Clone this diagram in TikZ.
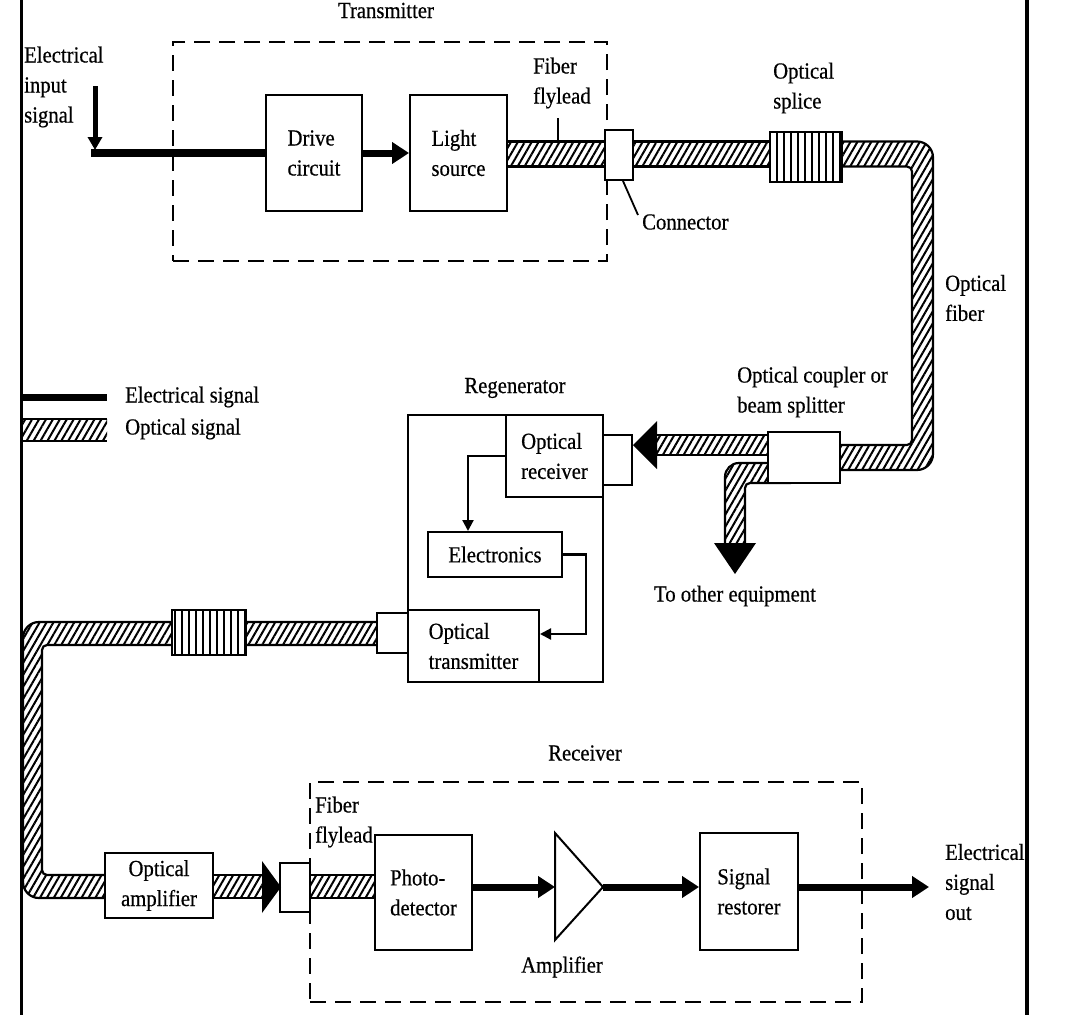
\documentclass[tikz,border=0pt]{standalone}
\usepackage{fontspec}
\setmainfont{Liberation Serif}[FakeStretch=0.9,FakeBold=0.5]
\usetikzlibrary{arrows.meta,patterns.meta,calc}
\begin{document}
\begin{tikzpicture}[x=1pt,y=-1pt,
  font=\fontsize{23}{30}\selectfont,
  blk/.style={draw, line width=2pt, fill=white, inner sep=0pt, align=left},
  lbl/.style={inner sep=0pt, align=left},
  fiberband/.style={draw, line width=2.2pt, pattern={Lines[angle=60,distance=6pt,line width=2pt]}},
  splicebox/.style={draw, line width=2.2pt, fill=white, inner sep=0pt, postaction={pattern={Lines[angle=90,distance=7pt,line width=2pt]}}},
  earrow/.style={line width=7pt, -{Triangle[length=17pt,width=21pt]}},
  tarrow/.style={line width=2.2pt, -{Triangle[length=11pt,width=11pt]}},
  dashbox/.style={draw, line width=2.4pt, dash pattern=on 16pt off 9pt, inner sep=0pt},
  thinline/.style={line width=1.8pt},
]
% background and frame
\fill[white] (0,0) rectangle (1072,1015);
\useasboundingbox (0,0) rectangle (1072,1015);
\draw[line width=3.5pt] (21.5,0) -- (21.5,1015);
\draw[line width=4pt] (1027,0) -- (1027,1015);

% dashed enclosures
\node[dashbox, minimum width=434pt, minimum height=219pt] (txbox) at (390,151.5) {};
\node[dashbox, minimum width=552pt, minimum height=220pt] (rxbox) at (586,892) {};

% optical fiber bands
\path[fiberband] (500,141.5) rectangle (790,166.5);
\path[fiberband] (800,141.5) [rounded corners=16pt] -- (933,141.5) -- (933,470) -- (800,470)
   [rounded corners=5pt] -- (800,445) -- (912,445) -- (912,166.5) -- (800,166.5) -- cycle;
\path[fiberband] (655,435) rectangle (790,455);
\path[fiberband] (790,483) [rounded corners=5pt] -- (745,483) -- (745,510) [sharp corners] -- (745,548)
   -- (725,548) -- (725,510) [rounded corners=14pt] -- (725,463) -- (790,463) [sharp corners] -- cycle;
\path[fiberband] (400,622) [rounded corners=16pt] -- (23,622) -- (23,898) -- (130,898)
   [rounded corners=5pt] -- (130,875) -- (42,875) -- (42,645) -- (400,645) -- cycle;
\path[fiberband] (205,875) rectangle (265,898);
\path[fiberband] (300,875) rectangle (380,898);

% blocks
\node[blk, minimum width=96pt, minimum height=116pt] (drive) at (314,153) {Drive\\circuit};
\node[blk, minimum width=97pt, minimum height=116pt] (light) at (458.5,153) {Light\\source};
\node[blk, minimum width=28pt, minimum height=50pt] (conn1) at (619,155) {};
\node[splicebox, minimum width=72pt, minimum height=50pt] (splice1) at (806,157) {};
\node[blk, minimum width=72pt, minimum height=51pt] (coupler) at (804,457.5) {};
\node[blk, line width=1.6pt, minimum width=195pt, minimum height=267pt] (regen) at (505.5,548.5) {};
\node[blk, minimum width=97pt, minimum height=82pt] (orx) at (554.5,456) {Optical\\receiver};
\node[blk, minimum width=134pt, minimum height=45pt] (elec) at (495,554.5) {Electronics};
\node[blk, minimum width=131pt, minimum height=72pt] (otx) at (473.5,646) {Optical\\transmitter};
\node[blk, minimum width=29pt, minimum height=50pt] (port1) at (617.5,460) {};
\node[blk, minimum width=31pt, minimum height=40pt] (port2) at (392.5,633) {};
\node[splicebox, minimum width=74pt, minimum height=45pt] (splice2) at (209,632.5) {};
\node[blk, align=center, minimum width=108pt, minimum height=65pt] (oamp) at (159,885.5) {Optical\\amplifier};
\node[blk, minimum width=30pt, minimum height=49pt] (port3) at (295,887.5) {};
\node[blk, minimum width=97pt, minimum height=115pt] (pd) at (423.5,892.5) {Photo-\\detector};
\node[blk, minimum width=98pt, minimum height=117pt] (sr) at (749,891.5) {Signal\\restorer};

% amplifier triangle
\coordinate (ampin) at (555,887);
\coordinate (ampout) at (603,887);
\draw[line width=2pt, fill=white] (555,833) -- (ampout) -- (555,940) -- cycle;

% optical arrowheads
\fill (657,421) -- (633,445) -- (657,469) -- cycle;
\fill (714,543) -- (756,543) -- (735,574) -- cycle;
\fill (262,861) -- (281,887) -- (262,913) -- cycle;

% electrical signal paths
\coordinate (inp) at (95,86);
\draw[line width=5pt, -{Triangle[length=13pt,width=14pt]}] (inp) -- (95,150);
\draw[line width=8pt] (91,153) -- (drive.west);
\draw[earrow] (drive.east) -- (light.west);
\draw[earrow] (pd.east |- ampin) -- (ampin);
\draw[earrow] (ampout) -- (sr.west |- ampout);
\coordinate (outtip) at (929,887);
\draw[earrow] (sr.east |- ampout) -- (outtip);

% regenerator internal
\draw[tarrow] (orx.west) -| ([xshift=-27pt]elec.north);
\draw[tarrow] (elec.east) -- ++(23,0) |- ([yshift=12pt]otx.east);

% leaders
\coordinate (connlead) at (638,215);
\draw[thinline] ([xshift=4pt]conn1.south) -- (connlead);
\coordinate (flytick) at (558,118);
\coordinate (flybase) at (558,141.5);
\draw[thinline] (flytick) -- (flybase);

% legend
\draw[line width=7pt] (23,397) -- (107,397);
\path[pattern={Lines[angle=60,distance=6pt,line width=2pt]}] (23,419) rectangle (107,441);
\draw[line width=2.2pt] (23,419) -- (107,419) (23,441) -- (107,441);

% labels
\node[lbl, anchor=base] (ttx) at (386,18) {Transmitter};
\node[lbl, anchor=west] (tin) at (24,87) {Electrical\\input\\signal};
\node[lbl, anchor=west] (tfly1) at (533,83) {Fiber\\flylead};
\node[lbl, anchor=west] (tconn) at (642,222) {Connector};
\node[lbl, anchor=west] (tsplice) at (773,88) {Optical\\splice};
\node[lbl, anchor=west] (tfib) at (945,298) {Optical\\fiber};
\node[lbl, anchor=west] (tleg1) at (125,397) {Electrical signal};
\node[lbl, anchor=west] (tleg2) at (125,429) {Optical signal};
\node[lbl] (tregen) at (515,388) {Regenerator};
\node[lbl, anchor=west] (tcoup) at (737,392) {Optical coupler or\\beam splitter};
\node[lbl] (tother) at (735,596) {To other equipment};
\node[lbl] (trx) at (585,753) {Receiver};
\node[lbl, anchor=west] (tfly2) at (315,822) {Fiber\\flylead};
\node[lbl] (tamp) at (562,967) {Amplifier};
\node[lbl, anchor=west] (tout) at (945,882) {Electrical\\signal\\out};
\end{tikzpicture}
\end{document}
